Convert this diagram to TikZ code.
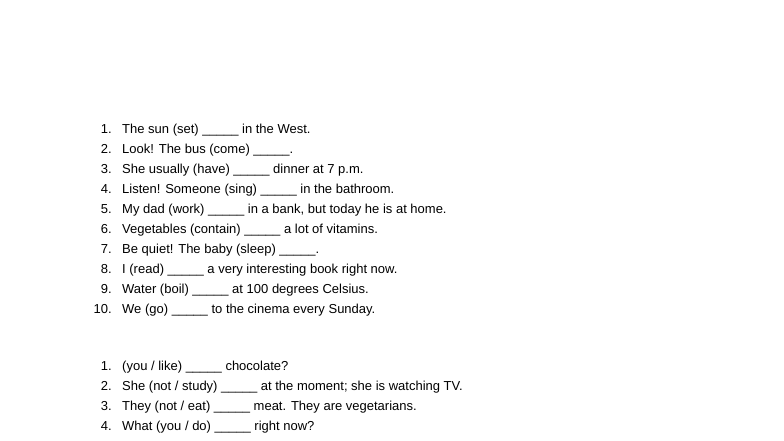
\documentclass[tikz,border=0pt]{standalone}
\usepackage{fontspec}
\setmainfont{Liberation Sans}
\begin{document}
\begin{tikzpicture}[x=1pt,y=-1pt,
  num/.style={anchor=base east,inner sep=0pt,font=\fontsize{13}{15}\selectfont},
  txt/.style={anchor=base west,inner sep=0pt,font=\fontsize{13}{15}\selectfont}]
\useasboundingbox[fill=white] (0,0) rectangle (784,441);
\begin{scope}
\clip (0,0) rectangle (784,441);
\foreach \n/\t [count=\i] in {
 1/{The sun (set) \_\_\_\_\_ in the West.},
 2/{Look! The bus (come) \_\_\_\_\_.},
 3/{She usually (have) \_\_\_\_\_ dinner at 7 p.m.},
 4/{Listen! Someone (sing) \_\_\_\_\_ in the bathroom.},
 5/{My dad (work) \_\_\_\_\_ in a bank, but today he is at home.},
 6/{Vegetables (contain) \_\_\_\_\_ a lot of vitamins.},
 7/{Be quiet! The baby (sleep) \_\_\_\_\_.},
 8/{I (read) \_\_\_\_\_ a very interesting book right now.},
 9/{Water (boil) \_\_\_\_\_ at 100 degrees Celsius.},
 10/{We (go) \_\_\_\_\_ to the cinema every Sunday.}}{
  \node[num] (n\i) at (112,{133+20.1*(\i-1)}) {\n.};
  \node[txt] (t\i) at (122,{133+20.1*(\i-1)}) {\t};
}
\foreach \n/\t [count=\i] in {
 1/{(you / like) \_\_\_\_\_ chocolate?},
 2/{She (not / study) \_\_\_\_\_ at the moment; she is watching TV.},
 3/{They (not / eat) \_\_\_\_\_ meat. They are vegetarians.},
 4/{What (you / do) \_\_\_\_\_ right now?}}{
  \node[num] (m\i) at (112,{370+20.1*(\i-1)}) {\n.};
  \node[txt] (s\i) at (122,{370+20.1*(\i-1)}) {\t};
}
\end{scope}
\end{tikzpicture}
\end{document}
